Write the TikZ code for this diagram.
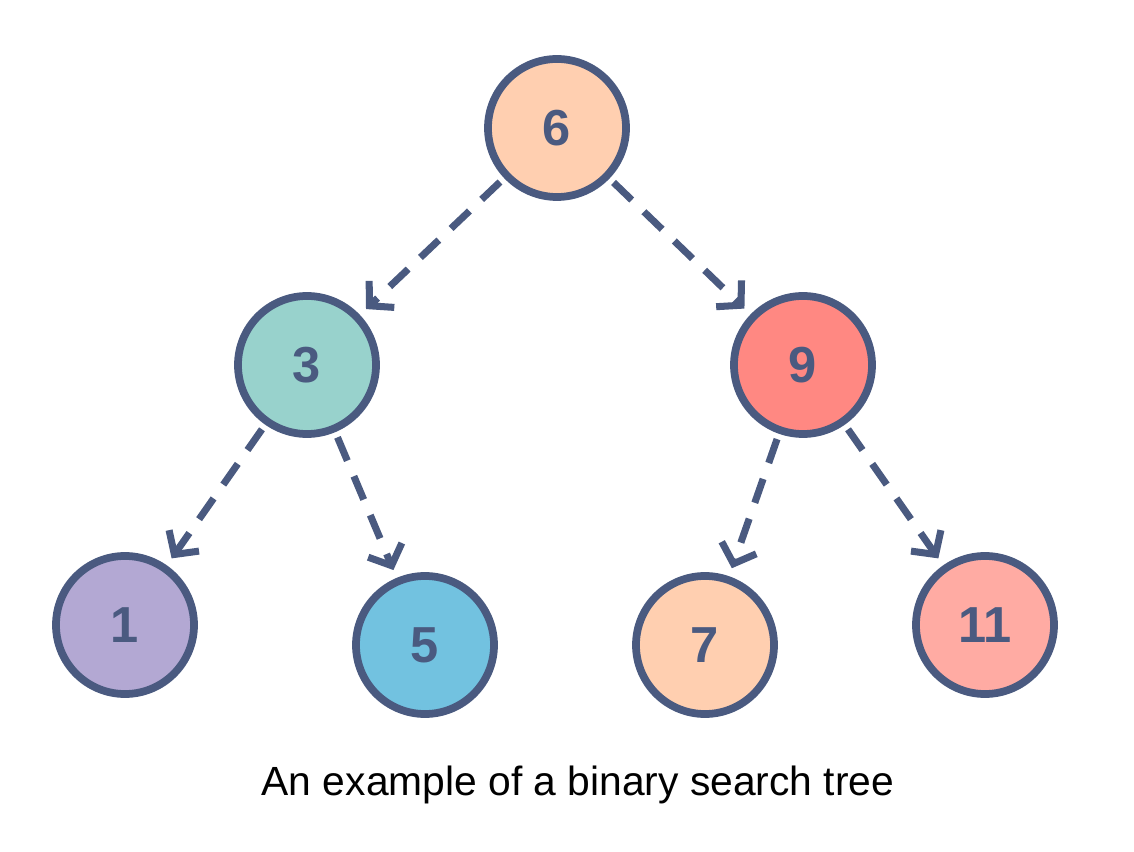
\documentclass[tikz,border=0pt]{standalone}
\usepackage{fontspec}
\setmainfont{Liberation Sans}
\usetikzlibrary{arrows.meta}
\definecolor{edgeblue}{HTML}{4A5A80}
\definecolor{peach}{HTML}{FFCFB0}
\definecolor{teal}{HTML}{98D2CC}
\definecolor{redish}{HTML}{FF8882}
\definecolor{lilac}{HTML}{B3A8D3}
\definecolor{skyblue}{HTML}{72C2E0}
\definecolor{salmon}{HTML}{FFABA3}

\begin{document}
\begin{tikzpicture}[x=0.025cm, y=-0.025cm]
    \tikzset{vertex/.style={circle, draw=edgeblue, line width=5.5pt, minimum size=3.45cm, inner sep=0pt, text=edgeblue, font=\fontsize{36}{38}\selectfont\bfseries}}
    \tikzset{arrow/.style={draw=edgeblue, line width=5pt, dash pattern=on 18pt off 12pt, -{Straight Barb[length=12pt, width=26pt, line width=5pt]}, shorten >=6pt, shorten <=4pt}}
    \useasboundingbox (0,0) rectangle (1134,852);

    \node (six) [vertex, fill=peach] at (557,128) {6};
    \node (three) [vertex, fill=teal] at (307,365) {3};
    \node (nine) [vertex, fill=redish] at (803,365) {9};
    \node (one) [vertex, fill=lilac] at (125,625) {1};
    \node (five) [vertex, fill=skyblue] at (425,645) {5};
    \node (seven) [vertex, fill=peach] at (705,645) {7};
    \node (eleven) [vertex, fill=salmon] at (985,625) {11};

    \node (caption) at (578,785) {\fontsize{29}{32}\selectfont An example of a binary search tree};

    % Arrows
    \draw [arrow] (six) -- (three);
    \draw [arrow] (six) -- (nine);
    \draw [arrow] (three) -- (one);
    \draw [arrow] (three) -- (five);
    \draw [arrow] (nine) -- (seven);
    \draw [arrow] (nine) -- (eleven);
\end{tikzpicture}
\end{document}
